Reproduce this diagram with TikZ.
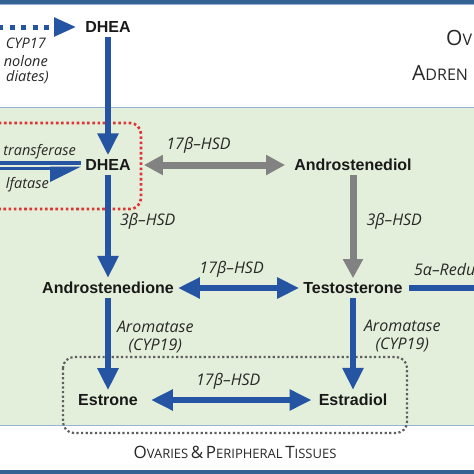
\documentclass[tikz,border=0pt]{standalone}
\usepackage{fontspec}
\setmainfont{Liberation Sans}
\newfontfamily\labfont{Open Sans}
\usetikzlibrary{arrows.meta}

\definecolor{pathblue}{RGB}{36,84,162}
\definecolor{pathgray}{RGB}{130,130,130}
\definecolor{tissuegreen}{RGB}{228,239,219}
\definecolor{barblue}{RGB}{52,98,146}
\definecolor{edgeblue}{RGB}{150,178,212}
\definecolor{boxred}{RGB}{222,52,52}
\definecolor{boxgray}{RGB}{95,95,95}
\definecolor{labtext}{RGB}{40,40,40}

\newcommand{\smc}[4]{{\fontsize{#3}{#3}\selectfont #1}{\fontsize{#4}{#4}\selectfont #2}}

\tikzset{
	mol/.style = {font=\fontsize{16}{16}\selectfont\bfseries, text=black!90, inner sep=4pt},
	enz/.style = {font=\labfont\itshape\fontsize{16}{18}\selectfont, text=labtext, inner sep=0pt},
	edgeenz/.style = {enz, font=\labfont\itshape\fontsize{14.5}{16}\selectfont, anchor=east},
	bluetip/.tip = {Triangle[width=20pt, length=22pt]},
	graytip/.tip = {Triangle[width=19pt, length=19pt]},
	flow/.style = {line width=6pt, pathblue, -bluetip},
	twoway/.style = {line width=6pt, pathblue, bluetip-bluetip},
	grayflow/.style = {line width=7pt, pathgray, -graytip},
}

\begin{document}
\begin{tikzpicture}[x=1pt, y=-1pt]
	\useasboundingbox (0,0) rectangle (474,474);
	\clip (0,0) rectangle (474,474);
	% background bands
	\fill [white] (0,0) rectangle (474,474);
	\fill [tissuegreen] (0,107.5) rectangle (474,425.5);
	\draw [edgeblue, line width=1.2pt] (0,107.5) -- (474,107.5);
	\draw [edgeblue, line width=1.2pt] (0,425.5) -- (474,425.5);
	\fill [barblue] (0,0) rectangle (474,3.5);
	\draw [edgeblue, line width=1pt] (0,4.5) -- (474,4.5);
	\fill [barblue] (0,469.5) rectangle (474,474);

	% tissue titles
	\node [anchor=west, inner sep=0pt, font=\labfont, text=labtext] (ovtitle) at (446,38) {\smc{O}{V}{21}{16}};
	\node [anchor=west, inner sep=0pt, font=\labfont, text=labtext] (adtitle) at (412,73) {\smc{A}{DREN}{21}{16}};
	\node [inner sep=0pt, font=\labfont, text=labtext] (periph) at (235,452) {\smc{O}{VARIES}{17}{13} \smc{\&}{}{17}{13} \smc{P}{ERIPHERAL}{17}{13} \smc{T}{ISSUES}{17}{13}};

	% steroids
	\node [mol] (dheatop) at (108,27) {DHEA};
	\node [mol] (dhea) at (108,165) {DHEA};
	\node [mol] (diol) at (353,165) {Androstenediol};
	\node [mol] (dione) at (108,288) {Androstenedione};
	\node [mol] (testo) at (353,288) {Testosterone};
	\node [mol] (estrone) at (108,400) {Estrone};
	\node [mol] (estradiol) at (353,400) {Estradiol};

	% boxes
	\draw [boxred, line width=2.6pt, dash pattern=on 2.6pt off 2.6pt, rounded corners=11pt] (-20,123) rectangle (141,209);
	\draw [boxgray, line width=2.2pt, dash pattern=on 2.2pt off 2.4pt, rounded corners=11pt] (63,357) rectangle (407,433);

	% adrenal input
	\coordinate (dashstart) at (-2,27);
	\draw [line width=5pt, pathblue, dash pattern=on 5pt off 6.5pt, -{Triangle[width=18pt, length=22pt]}, shorten >=5pt] (dashstart) -- (dheatop.west);
	\node [edgeenz] (cyp) at (46,43) {CYP17};
	\node [edgeenz] (preg) at (48,61) {nolone};
	\node [edgeenz] (inter) at (49,77) {diates)};
	\draw [flow] (dheatop) -- (dhea);

	% sulfation
	\coordinate (sulfout) at (-5,163);
	\coordinate (sulfin) at (-5,168.5);
	\draw [line width=3.8pt, pathblue] (dhea.west |- sulfout) -- (sulfout);
	\draw [line width=3.8pt, pathblue, -{Triangle[harpoon, swap, width=26pt, length=27pt]}] (sulfin) -- (dhea.west |- sulfin);
	\node [edgeenz] (sult) at (76,152) {transferase};
	\node [edgeenz] (sts) at (49,185) {lfatase};

	% conversions
	\draw [grayflow, graytip-graytip, shorten <=9pt, shorten >=5pt] (dhea) -- (diol) node [enz, midway, above=8pt, xshift=-14pt] {17β–HSD};
	\draw [flow] (dhea) -- (dione) node [enz, pos=.45, right=9pt] {3β–HSD};
	\draw [grayflow] (diol) -- (testo) node [enz, pos=.45, right=10pt] {3β–HSD};
	\draw [twoway] (dione) -- (testo) node [enz, midway, above=8pt, xshift=-7pt] {17β–HSD};
	\draw [flow] (dione) -- (estrone) node [enz, pos=.42, right=6pt, align=center] {Aromatase\\(CYP19)};
	\draw [flow] (testo) -- (estradiol) node [enz, pos=.42, right=8pt, align=center] {Aromatase\\(CYP19)};
	\draw [twoway, shorten <=9pt, shorten >=3pt] (estrone) -- (estradiol) node [enz, midway, above=8pt, xshift=0pt] {17β–HSD};
	\coordinate (redout) at (480,288);
	\draw [line width=6pt, pathblue, shorten <=2pt] (testo) -- (redout) node [enz, pos=.1, above=9pt, anchor=south west, xshift=-3pt] {5α–Redu};
\end{tikzpicture}
\end{document}
